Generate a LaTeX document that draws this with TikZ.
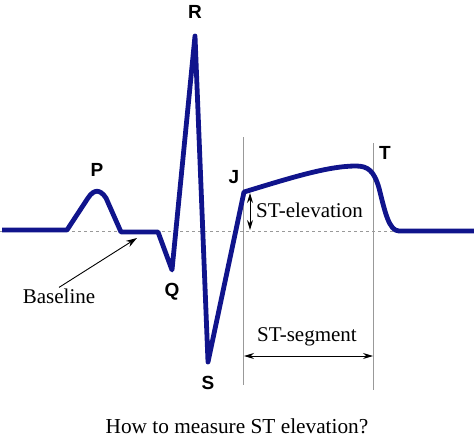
\documentclass[tikz,border=0pt]{standalone}
\usepackage{fontspec}
\setmainfont{Liberation Serif}
\newfontfamily\labelfont{Liberation Sans}
\usetikzlibrary{arrows.meta}

\definecolor{ecgblue}{RGB}{16,20,140}

\begin{document}
\begin{tikzpicture}[x=1pt, y=-1pt,
  wave/.style={ecgblue, line width=4.8pt, line join=round},
  peak/.style={font=\labelfont\bfseries\fontsize{19}{19}\selectfont, inner sep=1pt},
  note/.style={font=\fontsize{21}{21}\selectfont, inner sep=1pt},
  guide/.style={gray!80, line width=0.6pt},
  arrow/.style={-{Stealth[length=11pt,width=7pt]}, line width=0.9pt},
  twoway/.style={{Stealth[length=10pt,width=6pt]}-{Stealth[length=10pt,width=6pt]}, line width=0.9pt}
]
\useasboundingbox (0,0) rectangle (474,439);

% baseline and guides
\draw[guide, dashed, line width=0.4pt] (0,231) -- (474,231);
\coordinate (jtop) at (243,137);
\coordinate (jbot) at (243,385);
\coordinate (ttop) at (373,143);
\coordinate (tbot) at (373,390);
\draw[guide] (jtop) -- (jbot);
\draw[guide] (ttop) -- (tbot);

% ECG trace
\draw[wave] (2,230) -- (67,230) -- (88,198)
  .. controls (94,189) and (100,189) .. (106,198) -- (121,232) -- (158,232)
  -- (172,270) -- (195,36) -- (208,362) -- (244,192)
  .. controls (290,178) and (328,166) .. (356,166)
  .. controls (368,166) and (374,171) .. (379,188)
  .. controls (385,212) and (389,231) .. (399,231) -- (474,231);

% wave names
\node[peak] (P) at (97,170) {P};
\node[peak] (R) at (195,12) {R};
\node[peak] (Q) at (172,292) {Q};
\node[peak] (S) at (208,383) {S};
\node[peak] (J) at (234,177) {J};
\node[peak] (T) at (385,153) {T};

% notes
\node[note] (base) at (59,296) {Baseline};
\coordinate (basept) at (137,238);
\draw[arrow] (base.north) -- (basept);

\coordinate (elevtop) at (250,193);
\coordinate (elevbot) at (250,230);
\draw[twoway] (elevtop) -- (elevbot);
\node[note, anchor=west] (elev) at (255,210) {ST-elevation};

\coordinate (segl) at (244,356);
\coordinate (segr) at (373,356);
\draw[twoway] (segl) -- (segr);
\node[note] (seg) at (307,337) {ST-segment};

\node[note, anchor=base, font=\fontsize{21.3}{21}\selectfont] (caption) at (237,433) {How to measure ST elevation?};
\end{tikzpicture}
\end{document}
